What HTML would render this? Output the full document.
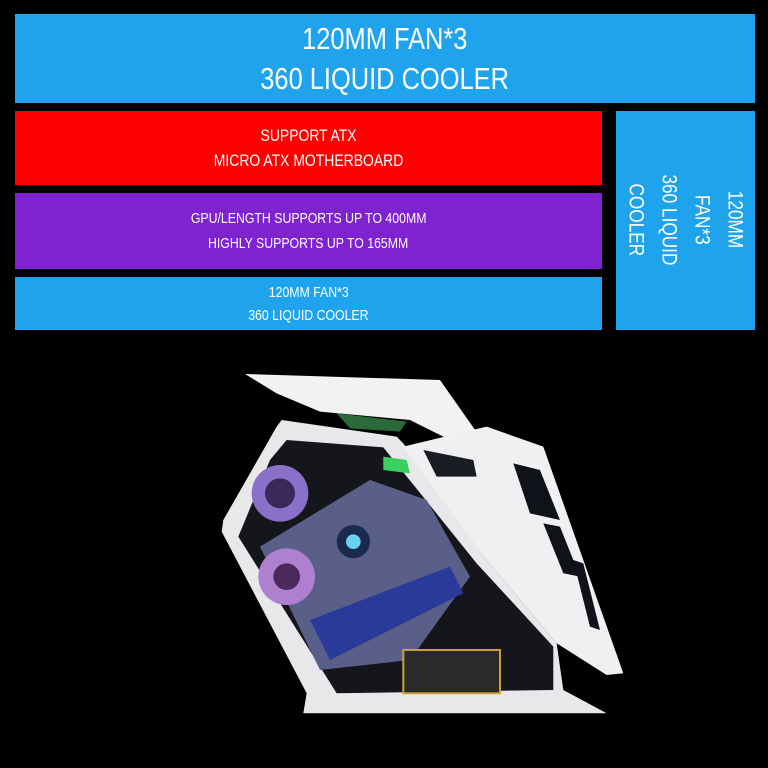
<!DOCTYPE html>
<html><head><meta charset="utf-8"><style>
body{margin:0;background:#000;width:768px;height:768px;overflow:hidden;position:relative;font-family:"Liberation Sans Narrow","Liberation Sans",sans-serif;color:#fff}
.b{position:absolute;display:flex;flex-direction:column;align-items:center;justify-content:center;text-align:center}
.t{transform:scaleX(0.82);white-space:nowrap}
</style></head><body>
<div class="b" style="left:15px;top:14px;width:740px;height:89px;background:#1fa3ec;font-size:31px;line-height:40px"><div class="t">120MM FAN*3</div><div class="t">360 LIQUID COOLER</div></div>
<div class="b" style="left:15px;top:111px;width:587px;height:74px;background:#ff0000;font-size:17px;line-height:25px"><div class="t">SUPPORT ATX</div><div class="t">MICRO ATX MOTHERBOARD</div></div>
<div class="b" style="left:15px;top:193px;width:587px;height:76px;background:#7f22d0;font-size:15px;line-height:25px"><div class="t">GPU/LENGTH SUPPORTS UP TO 400MM</div><div class="t">HIGHLY SUPPORTS UP TO 165MM</div></div>
<div class="b" style="left:15px;top:277px;width:587px;height:53px;background:#1fa3ec;font-size:15px;line-height:23px"><div class="t">120MM FAN*3</div><div class="t">360 LIQUID COOLER</div></div>
<div style="position:absolute;left:616px;top:111px;width:139px;height:219px;background:#1fa3ec"></div>
<div class="b" style="left:576px;top:200px;width:219px;height:40px;transform:rotate(90deg);font-size:21px;line-height:33px;height:140px;top:150px"><div class="t">120MM</div><div class="t">FAN*3</div><div class="t">360 LIQUID</div><div class="t">COOLER</div></div>
<svg width="768" height="768" style="position:absolute;left:0;top:0">
<g transform="translate(210,360) scale(0.3333)">
<polygon points="215,180 560,230 580,250 830,600 1040,850 1060,990 1190,1060 280,1060 290,1000 35,515 40,480 200,200" fill="#e8e8ea"/>
<polygon points="230,240 520,262 800,610 1030,860 1030,990 380,1000 85,530 180,300" fill="#15161c"/>
<polygon points="150,560 480,360 650,420 780,650 600,900 330,930" fill="#5a5f8a"/>
<polygon points="300,780 720,620 760,700 360,900" fill="#2a3a9a"/>
<circle cx="210" cy="400" r="85" fill="#8a70c8"/><circle cx="210" cy="400" r="45" fill="#3a2a5a"/>
<circle cx="230" cy="650" r="85" fill="#b080d0"/><circle cx="230" cy="650" r="40" fill="#4a2a5a"/>
<circle cx="430" cy="545" r="50" fill="#1a2a4a"/><circle cx="430" cy="545" r="22" fill="#6ad0f0"/>
<rect x="580" y="870" width="290" height="130" fill="#2a2a2a" stroke="#c9a23a" stroke-width="6"/>
<polygon points="105,42 690,60 820,245 760,260 600,180 330,155 200,100" fill="#f2f2f2"/>
<polygon points="580,260 830,200 1000,260 1240,940 1190,945 1040,850 830,600" fill="#f0f0f2"/>
<polygon points="910,310 990,330 1050,480 960,460" fill="#10121a"/>
<polygon points="1000,490 1050,500 1110,650 1060,640" fill="#10121a"/>
<polygon points="1090,600 1120,610 1170,810 1140,800" fill="#10121a"/>
<polygon points="640,270 790,300 800,350 680,350" fill="#1a1c24"/>
<polygon points="380,160 590,185 570,215 420,205" fill="#2a6a3a"/>
<polygon points="520,290 590,300 600,340 520,330" fill="#3ad060"/>
</g>
</svg>
</body></html>
